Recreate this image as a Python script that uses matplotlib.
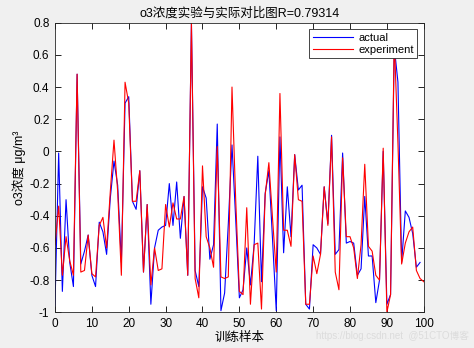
import matplotlib.pyplot as plt
import matplotlib.ticker as ticker
import numpy as np

plt.rcParams['font.family'] = ['Liberation Sans', 'Noto Sans CJK SC', 'DejaVu Sans']

# sample values
actual = [-0.96, -0.01, -0.87, -0.30, -0.69, -0.84, 0.48, -0.70, -0.62, -0.52,
          -0.77, -0.84, -0.44, -0.50, -0.64, -0.29, -0.06, -0.21, -0.69, 0.30,
          0.34, -0.31, -0.36, -0.12, -0.75, -0.33, -0.95, -0.60, -0.49, -0.47,
          -0.46, -0.20, -0.46, -0.19, -0.54, -0.28, -0.77, 0.80, -0.74, -0.84,
          -0.22, -0.29, -0.67, -0.58, 0.17, -0.99, -0.88, -0.45, 0.04, -0.42,
          -0.91, -0.86, -0.60, -0.83, -0.58, -0.03, -0.81, -0.26, -0.12, -0.55,
          -0.99, 0.09, -0.63, -0.22, -0.53, -0.02, -0.24, -0.21, -0.95, -0.98,
          -0.58, -0.60, -0.64, -0.22, -0.45, 0.10, -0.64, -0.61, -0.01, -0.57,
          -0.56, -0.57, -0.77, -0.73, -0.28, -0.65, -0.65, -0.94, -0.80, 0.00,
          -0.95, -0.89, 0.65, 0.43, -0.69, -0.37, -0.41, -0.51, -0.72, -0.69]

experiment = [-0.58, -0.34, -0.77, -0.53, -0.68, -0.77, 0.48, -0.75, -0.74, -0.52,
              -0.76, -0.78, -0.46, -0.41, -0.60, -0.25, 0.07, -0.25, -0.77, 0.43,
              0.30, -0.31, -0.31, -0.12, -0.75, -0.33, -0.83, -0.60, -0.74, -0.73,
              -0.33, -0.47, -0.32, -0.42, -0.42, -0.28, -0.77, 0.80, -0.79, -0.91,
              -0.09, -0.53, -0.60, -0.72, 0.03, -0.78, -0.79, -0.78, 0.40, -0.30,
              -0.87, -0.89, -0.35, -0.95, -0.58, -0.57, -0.98, -0.27, -0.07, -0.42,
              -0.75, 0.36, -0.49, -0.49, -0.59, -0.02, -0.30, -0.31, -0.95, -0.95,
              -0.65, -0.76, -0.64, -0.22, -0.46, 0.09, -0.75, -0.86, -0.04, -0.53,
              -0.53, -0.60, -0.79, -0.58, -0.08, -0.59, -0.62, -0.77, -0.80, 0.02,
              -1.00, -0.89, 0.70, 0.05, -0.70, -0.57, -0.50, -0.47, -0.74, -0.79,
              -0.81]

x_act = np.arange(len(actual))
x_exp = np.arange(len(experiment))

fig = plt.figure(figsize=(4.74, 3.48), dpi=100, facecolor='#f0f0f0')
ax = fig.add_axes([0.116, 0.1026, 0.778, 0.8322])

ax.plot(x_act, actual, color='b', linewidth=0.8, label='actual')
ax.plot(x_exp, experiment, color='r', linewidth=0.8, label='experiment')

ax.set_xlim(0, 100)
ax.set_ylim(-1, 0.8)
ax.xaxis.set_major_locator(ticker.MultipleLocator(10))
ax.yaxis.set_major_locator(ticker.MultipleLocator(0.2))
ax.yaxis.set_major_formatter(ticker.FuncFormatter(lambda v, p: f"{v:g}" if abs(v) > 1e-9 else "0"))
ax.tick_params(direction='in', top=True, right=True, length=4, width=0.6,
               labelsize=8.5, pad=4)
for s in ax.spines.values():
    s.set_linewidth(0.6)
    s.set_color('#262626')

ax.set_title('o3浓度实验与实际对比图R=0.79314', fontsize=9, pad=4)
ax.set_xlabel('训练样本', fontsize=9, labelpad=1)
ax.set_ylabel('o3浓度 μg/m³', fontsize=9, labelpad=2)

leg = ax.legend(loc='upper right', fontsize=8, fancybox=False, framealpha=1,
                edgecolor='#262626', handlelength=3.6, borderpad=0.3,
                labelspacing=0.2, handletextpad=0.5, borderaxespad=0.6)
leg.get_frame().set_linewidth(0.6)

fig.text(0.99, 0.02, 'https://blog.csdn.net  @51CTO博客', ha='right', va='bottom',
         fontsize=7, color='#dcdcdc')

fig.savefig('out.png', dpi=100, facecolor=fig.get_facecolor())
